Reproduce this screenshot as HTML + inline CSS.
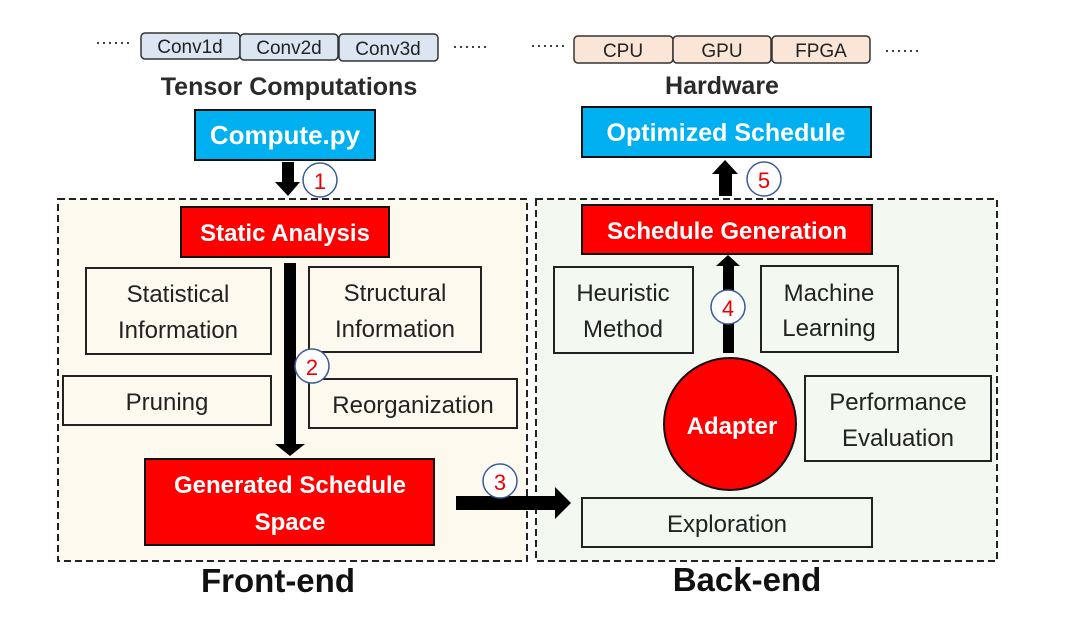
<!DOCTYPE html>
<html><head><meta charset="utf-8"><style>
body{margin:0;background:#fff}
svg{display:block}
text{font-family:"Liberation Sans",sans-serif}
</style></head><body>
<svg width="1074" height="621" viewBox="0 0 1074 621" xmlns="http://www.w3.org/2000/svg">
<rect x="58" y="199" width="469" height="362" fill="#fdf9ee" stroke="#222" stroke-width="2" stroke-dasharray="7,4"/>
<rect x="536" y="199" width="461" height="362" fill="#f3f8f0" stroke="#222" stroke-width="2" stroke-dasharray="7,4"/>

<text x="95" y="48" font-size="18" fill="#222">······</text>
<rect x="141" y="33" width="99" height="26" rx="4" fill="#dce6f2" stroke="#333" stroke-width="1.5"/>
<rect x="240" y="34" width="98" height="26" rx="4" fill="#dce6f2" stroke="#333" stroke-width="1.5"/>
<rect x="339" y="34" width="99" height="27" rx="4" fill="#dce6f2" stroke="#333" stroke-width="1.5"/>
<g font-size="19" fill="#222" text-anchor="middle">
<text x="190" y="53">Conv1d</text><text x="289" y="54">Conv2d</text><text x="388" y="55">Conv3d</text>
</g>
<text x="452" y="52" font-size="18" fill="#222">······</text>
<text x="289" y="95" font-size="25" font-weight="bold" fill="#2a2a2a" text-anchor="middle">Tensor Computations</text>
<rect x="195" y="110" width="180" height="50" fill="#00b0f0" stroke="#111" stroke-width="2"/>
<text x="285" y="144" font-size="26" font-weight="bold" fill="#fff" text-anchor="middle">Compute.py</text>

<text x="530" y="51" font-size="18" fill="#222">······</text>
<rect x="574" y="36" width="99" height="27" rx="4" fill="#fbe5d6" stroke="#333" stroke-width="1.5"/>
<rect x="673" y="36" width="98" height="27" rx="4" fill="#fbe5d6" stroke="#333" stroke-width="1.5"/>
<rect x="772" y="36" width="98" height="27" rx="4" fill="#fbe5d6" stroke="#333" stroke-width="1.5"/>
<g font-size="19" fill="#222" text-anchor="middle">
<text x="623" y="57">CPU</text><text x="722" y="57">GPU</text><text x="821" y="57">FPGA</text>
</g>
<text x="884" y="56" font-size="18" fill="#222">······</text>
<text x="722" y="94" font-size="25" font-weight="bold" fill="#2a2a2a" text-anchor="middle">Hardware</text>
<rect x="582" y="107" width="289" height="50" fill="#00b0f0" stroke="#111" stroke-width="2"/>
<text x="726" y="141" font-size="25" font-weight="bold" fill="#fff" text-anchor="middle">Optimized Schedule</text>

<polygon points="282,162 294,162 294,182 300,182 288,196 275,182 282,182" fill="#000"/>
<circle cx="320" cy="180" r="17" fill="#fff" stroke="#3a5a9a" stroke-width="1.5"/>
<text x="320" y="189" font-size="22" fill="#e00" text-anchor="middle">1</text>

<rect x="181" y="207" width="208" height="50" fill="#f00" stroke="#111" stroke-width="2"/>
<text x="285" y="241" font-size="24" font-weight="bold" fill="#fff" text-anchor="middle">Static Analysis</text>
<polygon points="284,263 296,263 296,444 305,444 290,456 275,444 284,444" fill="#000"/>
<g fill="none" stroke="#222" stroke-width="2">
<rect x="86" y="268" width="185" height="86"/>
<rect x="309" y="267" width="172" height="85"/>
<rect x="63" y="376" width="208" height="49"/>
<rect x="309" y="379" width="208" height="49"/>
</g>
<g font-size="24" fill="#222" text-anchor="middle">
<text x="178" y="302">Statistical</text><text x="178" y="338">Information</text>
<text x="395" y="301">Structural</text><text x="395" y="337">Information</text>
<text x="167" y="410">Pruning</text>
<text x="413" y="413">Reorganization</text>
</g>
<circle cx="312" cy="366" r="17" fill="#fff" stroke="#3a5a9a" stroke-width="1.5"/>
<text x="312" y="375" font-size="22" fill="#e00" text-anchor="middle">2</text>
<rect x="145" y="459" width="289" height="86" fill="#f00" stroke="#111" stroke-width="2"/>
<text x="290" y="493" font-size="24" font-weight="bold" fill="#fff" text-anchor="middle">Generated Schedule</text>
<text x="290" y="530" font-size="24" font-weight="bold" fill="#fff" text-anchor="middle">Space</text>
<text x="278" y="592" font-size="33" font-weight="bold" fill="#111" text-anchor="middle">Front-end</text>

<polygon points="456,496 555,496 555,487 571,503 555,519 555,510 456,510" fill="#000"/>
<circle cx="500" cy="481" r="17" fill="#fff" stroke="#3a5a9a" stroke-width="1.5"/>
<text x="500" y="490" font-size="22" fill="#e00" text-anchor="middle">3</text>

<polygon points="719,196 732,196 732,174 738,174 725,160 712,174 719,174" fill="#000"/>
<circle cx="764" cy="179" r="17" fill="#fff" stroke="#3a5a9a" stroke-width="1.5"/>
<text x="764" y="188" font-size="22" fill="#e00" text-anchor="middle">5</text>

<rect x="582" y="205" width="290" height="49" fill="#f00" stroke="#111" stroke-width="2"/>
<text x="727" y="239" font-size="24" font-weight="bold" fill="#fff" text-anchor="middle">Schedule Generation</text>
<polygon points="723,353 734,353 734,266 740,266 728,255 716,266 723,266" fill="#000"/>
<circle cx="728" cy="307" r="17" fill="#fff" stroke="#3a5a9a" stroke-width="1.5"/>
<text x="728" y="316" font-size="22" fill="#e00" text-anchor="middle">4</text>
<g fill="none" stroke="#222" stroke-width="2">
<rect x="554" y="267" width="139" height="86"/>
<rect x="761" y="266" width="137" height="86"/>
<rect x="805" y="376" width="186" height="85"/>
<rect x="582" y="498" width="290" height="49"/>
</g>
<g font-size="24" fill="#222" text-anchor="middle">
<text x="623" y="301">Heuristic</text><text x="623" y="337">Method</text>
<text x="829" y="301">Machine</text><text x="829" y="336">Learning</text>
<text x="898" y="410">Performance</text><text x="898" y="446">Evaluation</text>
<text x="727" y="532">Exploration</text>
</g>
<circle cx="730" cy="424" r="66" fill="#f00" stroke="#111" stroke-width="2"/>
<text x="732" y="434" font-size="24" font-weight="bold" fill="#fff" text-anchor="middle">Adapter</text>
<text x="747" y="591" font-size="33" font-weight="bold" fill="#111" text-anchor="middle">Back-end</text>
</svg>
</body></html>
